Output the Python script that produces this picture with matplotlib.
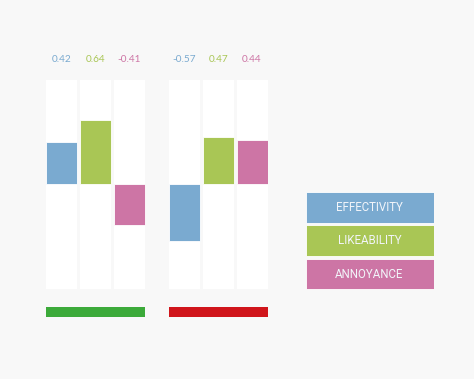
# evaluation scores per campaign, two groups of three columns

import numpy as np
import matplotlib
matplotlib.use('Agg')
import matplotlib.pyplot as plt
from matplotlib.patches import Rectangle

# DATA
metrics = ['EFFECTIVITY', 'LIKEABILITY', 'ANNOYANCE']
group_good = [0.42, 0.64, -0.41]
group_bad = [-0.57, 0.47, 0.44]
value_labels = ['0.42', '0.64', '-0.41', '-0.57', '0.47', '0.44']

# colours
metric_colors = ['#7aaad0', '#a9c655', '#cd75a5']
group_colors = ['#3caa3a', '#d0151b']
bg = '#f8f8f8'

plt.rcParams['font.family'] = ['Lato', 'DejaVu Sans']

W, H = 474, 379
fig = plt.figure(figsize=(W / 100, H / 100), dpi=100, facecolor=bg)

def px_axes(x0, y0, x1, y1):
    return fig.add_axes([x0 / W, 1 - y1 / H, (x1 - x0) / W, (y1 - y0) / H])

# main axis (pixel box of the white columns)
ax = px_axes(46, 80, 267.5, 289)
ax.set_facecolor(bg)

gap = 3.62
pos = np.array([0, 1, 2, gap, gap + 1, gap + 2])
values = np.array(group_good + group_bad)
colors = metric_colors + metric_colors
width = 31 / 34

ymin, ymax = -1.05, 1.04
# white background columns
ax.bar(pos, ymax - ymin, bottom=ymin, width=width, color='white', linewidth=0)
# value bars
ax.bar(pos, values, width=width, color=colors, edgecolor='white', linewidth=0.6)

for p, lab, c in zip(pos, value_labels, colors):
    ax.text(p, 1.25, lab, ha='center', va='center', fontsize=7.2, color=c,
            clip_on=False)

# group indicator bars below
for g, gc in enumerate(group_colors):
    start = pos[g * 3] - width / 2
    end = pos[g * 3 + 2] + width / 2
    ax.bar((start + end) / 2, -0.10, bottom=-1.23, width=end - start,
           color=gc, linewidth=0, clip_on=False)

ax.set_xlim(pos[0] - width / 2, pos[-1] + width / 2)
ax.set_ylim(ymin, ymax)
ax.axis('off')

# legend boxes
lax = px_axes(305.5, 192, 433.5, 290)
lax.set_xlim(0, 1)
lax.set_ylim(0, 98)
lax.invert_yaxis()
for i, (m, c) in enumerate(zip(metrics, metric_colors)):
    top = i * 33.4
    lax.add_patch(Rectangle((0, top), 1, 30.5, facecolor=c, edgecolor='white', linewidth=0.6))
    lax.text(0.5, top + 15.5, m, ha='center', va='center', fontsize=8.3, color='#f2f5fa',
             family=['Roboto', 'DejaVu Sans'])
lax.axis('off')

fig.savefig('out.png', dpi=100, facecolor=bg)
